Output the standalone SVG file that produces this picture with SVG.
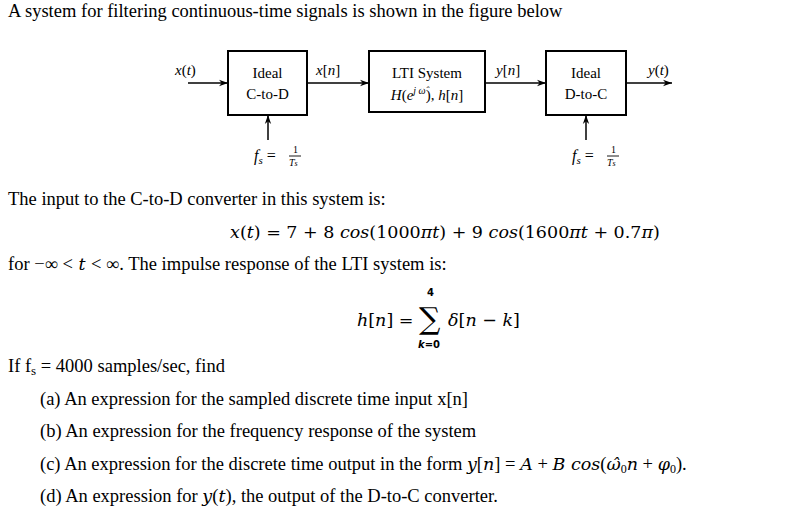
<svg xmlns="http://www.w3.org/2000/svg" width="810" height="532" viewBox="0 0 810 532">
<style>
.t{font-family:"Liberation Serif",serif;font-size:18.5px;fill:#000}
.s{font-family:"Liberation Serif",serif;font-size:15px;fill:#000}
.m{font-family:"DejaVu Serif","Liberation Serif",serif;font-style:italic;font-size:17.5px}
.b{fill:#fff;stroke:#000;stroke-width:2}
.c{stroke:#000;stroke-width:1.5;fill:none;marker-end:url(#a)}
</style>
<defs><marker id="a" viewBox="0 0 10 10" refX="10" refY="5" markerWidth="9" markerHeight="9" markerUnits="userSpaceOnUse" orient="auto"><path d="M0,1.5L10,5L0,8.5L3,5z" fill="#000"/></marker></defs>
<rect width="810" height="532" fill="#fff"/>
<text class="t" x="8" y="17">A system for filtering continuous-time signals is shown in the figure below</text>
<g id="connectors">
<line class="c" x1="188" y1="83" x2="228" y2="83"/>
<line class="c" x1="307" y1="83" x2="369" y2="83"/>
<line class="c" x1="485" y1="83" x2="546" y2="83"/>
<line class="c" x1="626" y1="83" x2="672" y2="83"/>
<line class="c" x1="268" y1="140" x2="268" y2="115"/>
<line class="c" x1="586" y1="140" x2="586" y2="115"/>
</g>
<g id="labels" class="s">
<text x="175" y="75"><tspan font-style="italic">x</tspan>(<tspan font-style="italic">t</tspan>)</text>
<text x="316" y="75"><tspan font-style="italic">x</tspan>[<tspan font-style="italic">n</tspan>]</text>
<text x="496" y="75"><tspan font-style="italic">y</tspan>[<tspan font-style="italic">n</tspan>]</text>
<text x="648" y="75"><tspan font-style="italic">y</tspan>(<tspan font-style="italic">t</tspan>)</text>
</g>
<g id="cd"><rect class="b" x="228" y="51" width="79" height="64"/>
<text class="s" x="267.5" y="78" text-anchor="middle" fill="#333">Ideal</text>
<text class="s" x="267.5" y="99" text-anchor="middle" fill="#333">C-to-D</text></g>
<g id="lti"><rect class="b" x="369" y="51" width="116" height="61"/>
<text class="s" x="427" y="78" text-anchor="middle" fill="#333">LTI System</text>
<text class="s" x="427" y="100" text-anchor="middle" fill="#333"><tspan font-style="italic">H</tspan>(<tspan font-style="italic">e</tspan><tspan font-size="10" dy="-6" font-style="italic">j ω̂</tspan><tspan dy="6">), </tspan><tspan font-style="italic">h</tspan>[<tspan font-style="italic">n</tspan>]</text></g>
<g id="dc"><rect class="b" x="546" y="51" width="80" height="64"/>
<text class="s" x="586" y="78" text-anchor="middle" fill="#333">Ideal</text>
<text class="s" x="586" y="99" text-anchor="middle" fill="#333">D-to-C</text></g>
<g id="fs1" class="s"><text x="254" y="161" font-size="16"><tspan font-style="italic">f</tspan><tspan font-size="11" dy="3" font-style="italic">s</tspan><tspan dy="-3"> = </tspan></text>
<text x="293" y="153" font-size="10">1</text><line x1="289" y1="156" x2="301" y2="156" stroke="#000" stroke-width="0.9"/><text x="289" y="166" font-size="10" font-style="italic">T<tspan font-size="8">s</tspan></text></g>
<g id="fs2" class="s"><text x="572" y="161" font-size="16"><tspan font-style="italic">f</tspan><tspan font-size="11" dy="3" font-style="italic">s</tspan><tspan dy="-3"> = </tspan></text>
<text x="611" y="153" font-size="10">1</text><line x1="607" y1="156" x2="619" y2="156" stroke="#000" stroke-width="0.9"/><text x="607" y="166" font-size="10" font-style="italic">T<tspan font-size="8">s</tspan></text></g>
<text class="t" x="8" y="205">The input to the C-to-D converter in this system is:</text>
<text class="m" x="230" y="238"><tspan>x</tspan><tspan font-style="normal">(</tspan>t<tspan font-style="normal">)  =  7  +  8 </tspan>cos<tspan font-style="normal">(1000</tspan>πt<tspan font-style="normal">)  +  9 </tspan>cos<tspan font-style="normal">(1600</tspan>πt<tspan font-style="normal">  +  0.7</tspan>π<tspan font-style="normal">)</tspan></text>
<text class="t" x="8" y="270">for −∞ &lt;<tspan class="m"> t </tspan>&lt; ∞. The impulse response of the LTI system is:</text>
<g font-family="DejaVu Serif,serif" font-size="17.5">
<text x="357" y="326"><tspan font-style="italic">h</tspan>[<tspan font-style="italic">n</tspan>] =</text>
<text x="419" y="329" font-size="30">∑</text>
<text x="427" y="296" font-size="10" font-family="DejaVu Sans,sans-serif" font-weight="bold">4</text>
<text x="418" y="348" font-size="10" font-family="DejaVu Sans,sans-serif" font-style="italic" font-weight="bold">k<tspan font-style="normal">=0</tspan></text>
<text x="448" y="326"><tspan font-style="italic">δ</tspan>[<tspan font-style="italic">n</tspan>  −  <tspan font-style="italic">k</tspan>]</text>
</g>
<text class="t" x="8" y="372">If f<tspan font-size="13" dy="3">s</tspan><tspan dy="-3"> = 4000 samples/sec, find</tspan></text>
<text class="t" x="40" y="405">(a) An expression for the sampled discrete time input x[n]</text>
<text class="t" x="40" y="437">(b) An expression for the frequency response of the system</text>
<text class="t" x="40" y="470">(c) An expression for the discrete time output in the form <tspan class="m">y</tspan>[<tspan class="m">n</tspan>] =  <tspan class="m">A</tspan> +  <tspan class="m">B cos</tspan>(<tspan class="m">ω̂</tspan><tspan font-size="12" dy="3">0</tspan><tspan dy="-3" class="m">n</tspan>  +  <tspan class="m">φ</tspan><tspan font-size="12" dy="3">0</tspan><tspan dy="-3">).</tspan></text>
<text class="t" x="40" y="502">(d) An expression for <tspan class="m">y</tspan>(<tspan class="m">t</tspan>), the output of the D-to-C converter.</text>
</svg>
